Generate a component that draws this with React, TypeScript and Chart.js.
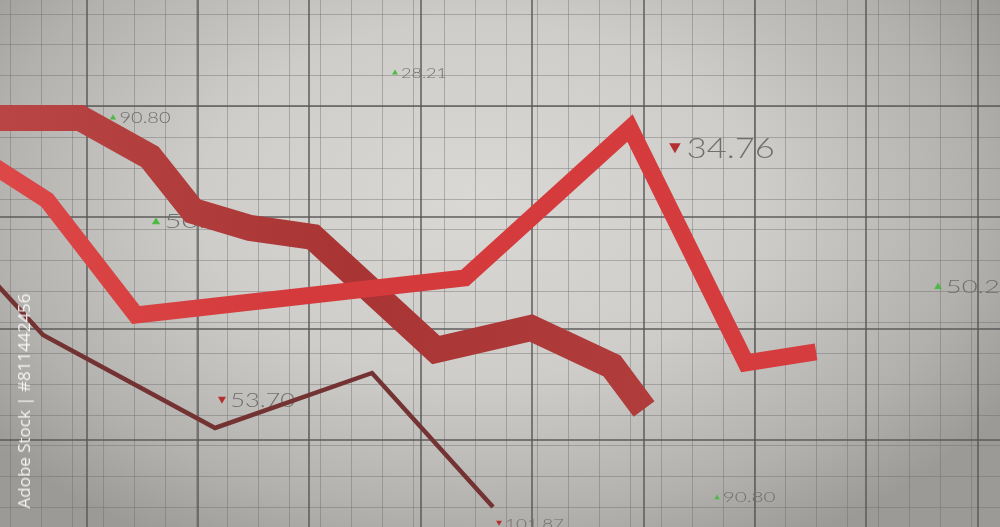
import React, { useEffect, useRef } from "react";
import { Chart, registerables } from "chart.js";

Chart.register(...registerables);

// ---- Series (x in major-grid columns, y in major-grid rows) ----
const wideX = [-0.866, -0.058, 0.57, 0.956, 1.468, 2.033, 3.137, 3.99, 4.717, 5.005];
const wideY = [2.893, 2.893, 2.543, 2.057, 1.905, 1.824, 0.809, 1.006, 0.665, 0.279];

const midX = [-0.866, -0.355, 0.444, 3.397, 4.879, 5.92, 6.549];
const midY = [2.483, 2.156, 1.123, 1.456, 2.803, 0.692, 0.791];

const thinX = [-0.866, -0.39, 1.154, 2.563, 3.649];
const thinY = [1.465, 0.943, 0.108, 0.602, -0.602];

// ---- Ticker labels ----
const tickerText = ["28.21", "90.80", "50.26", "34.76", "50.26", "53.70", "90.80", "101.87"];
const tickerX = [2.769, 0.238, 0.624, 5.282, 7.644, 1.216, 5.66, 3.703];
const tickerY = [3.306, 2.902, 1.968, 2.624, 1.384, 0.359, -0.512, -0.746];
const tickerUp = [true, true, true, false, true, false, true, false];

// label styling (font size px, rendered text width px)
const tickerFont = [14, 15, 20, 27.5, 18, 19, 13, 14];
const tickerWidth = [46, 51, 75, 88, 70, 65, 53, 59];

// ---- Axis ranges / grid ----
const xMin = -0.7765;
const xMax = 8.2;
const yMin = -0.7817;
const yMax = 3.9533;
const majorX = [0, 1, 2, 3, 4, 5, 6, 7, 8];
const majorY = [0, 1, 2, 3];
const minorXStart = -0.6867;
const minorXStep = 0.2783;
const minorYStart = 3.8275;
const minorYStep = 0.2772;

const watermark = "Adobe Stock | #811442456";

function pts(xs: number[], ys: number[]) {
  return xs.map((x, i) => ({ x, y: ys[i] }));
}

export default function App() {
  const ref = useRef<HTMLCanvasElement | null>(null);

  useEffect(() => {
    document.body.style.margin = "0";
    const canvas = ref.current!;

    const minorXs: number[] = [];
    for (let v = minorXStart; v <= xMax; v += minorXStep) minorXs.push(v);
    const minorYs: number[] = [];
    for (let v = minorYStart; v >= yMin; v -= minorYStep) minorYs.push(v);

    const grad = (stops: [number, string][]) => (c: any) => {
      const chart = c.chart;
      const area = chart.chartArea;
      if (!area) return stops[0][1];
      const g = chart.ctx.createLinearGradient(0, 0, chart.width, 0);
      stops.forEach(([p, col]) => g.addColorStop(p, col));
      return g;
    };

    const labelPlugin = {
      id: "tickers",
      beforeDatasetsDraw(chart: any) {
        const ctx = chart.ctx;
        const xs = chart.scales.x;
        const ys = chart.scales.y;
        ctx.save();
        tickerText.forEach((t, i) => {
          const px = xs.getPixelForValue(tickerX[i]);
          const py = ys.getPixelForValue(tickerY[i]);
          const fs = tickerFont[i];
          const s = fs * 0.21;
          ctx.beginPath();
          if (tickerUp[i]) {
            ctx.fillStyle = "#4cbb45";
            ctx.moveTo(px - s, py + s * 0.8);
            ctx.lineTo(px + s, py + s * 0.8);
            ctx.lineTo(px, py - s * 0.9);
          } else {
            ctx.fillStyle = "#b3302f";
            ctx.moveTo(px - s, py - s * 0.8);
            ctx.lineTo(px + s, py - s * 0.8);
            ctx.lineTo(px, py + s * 0.9);
          }
          ctx.closePath();
          ctx.fill();
          ctx.fillStyle = "#6f6f6f";
          ctx.font = `300 ${fs}px Lato, "DejaVu Sans", sans-serif`;
          ctx.textAlign = "left";
          ctx.textBaseline = "middle";
          const w = ctx.measureText(t).width;
          const k = tickerWidth[i] / w;
          ctx.save();
          ctx.translate(px + s + fs * 0.22, py + 1);
          ctx.scale(k, 1);
          ctx.fillText(t, 0, 0);
          ctx.restore();
        });
        ctx.restore();
      },
    };

    const chart = new Chart(canvas, {
      type: "line",
      data: {
        datasets: [
          {
            data: pts(midX, midY),
            borderColor: grad([
              [0, "#dc4747"],
              [0.3, "#d43a3c"],
              [1, "#d63d3f"],
            ]),
            borderWidth: 17,
            order: 1,
          },
          {
            data: pts(wideX, wideY),
            borderColor: grad([
              [0, "#ba4545"],
              [0.35, "#a93434"],
              [0.65, "#b03c3c"],
              [1, "#b03c3c"],
            ]),
            borderWidth: 26,
            order: 2,
          },
          {
            data: pts(thinX, thinY),
            borderColor: "#743333",
            borderWidth: 4.5,
            order: 3,
          },
        ],
      },
      options: {
        animation: false,
        responsive: true,
        maintainAspectRatio: false,
        layout: { padding: 0 },
        elements: {
          line: { tension: 0, borderJoinStyle: "miter", borderCapStyle: "butt" },
          point: { radius: 0, hoverRadius: 0 },
        },
        plugins: { legend: { display: false }, tooltip: { enabled: false } },
        events: [],
        scales: {
          xMinor: {
            type: "linear",
            position: "bottom",
            min: xMin,
            max: xMax,
            z: -1,
            ticks: { display: false },
            border: { display: false },
            grid: { color: "rgba(105,105,105,0.4)", lineWidth: 1, drawTicks: false },
            afterBuildTicks: (s: any) => {
              s.ticks = minorXs.map((v) => ({ value: v }));
            },
          },
          yMinor: {
            type: "linear",
            position: "left",
            min: yMin,
            max: yMax,
            z: -1,
            ticks: { display: false },
            border: { display: false },
            grid: { color: "rgba(105,105,105,0.4)", lineWidth: 1, drawTicks: false },
            afterBuildTicks: (s: any) => {
              s.ticks = minorYs.map((v) => ({ value: v }));
            },
          },
          x: {
            type: "linear",
            position: "bottom",
            min: xMin,
            max: xMax,
            ticks: { display: false },
            border: { display: false },
            grid: { color: "rgba(85,85,85,0.7)", lineWidth: 2, drawTicks: false },
            afterBuildTicks: (s: any) => {
              s.ticks = majorX.map((v) => ({ value: v }));
            },
          },
          y: {
            type: "linear",
            position: "left",
            min: yMin,
            max: yMax,
            ticks: { display: false },
            border: { display: false },
            grid: { color: "rgba(85,85,85,0.7)", lineWidth: 2, drawTicks: false },
            afterBuildTicks: (s: any) => {
              s.ticks = majorY.map((v) => ({ value: v }));
            },
          },
        },
      } as any,
      plugins: [labelPlugin],
    });

    return () => chart.destroy();
  }, []);

  return (
    <div
      style={{
        position: "fixed",
        left: 0,
        top: 0,
        width: 1000,
        height: 527,
        overflow: "hidden",
        background:
          "radial-gradient(ellipse 62% 75% at 48% 38%, #dad8d4 0%, #cfcdc9 45%, #b3b1ae 80%, #9c9a97 100%)",
      }}
    >
      <canvas ref={ref} width={1000} height={527} />
      <div
        style={{
          position: "absolute",
          left: 24,
          top: 401,
          transform: "translate(-50%, -50%) rotate(-90deg)",
          whiteSpace: "nowrap",
          color: "rgba(255,255,255,0.88)",
          fontFamily: '"Open Sans", sans-serif',
          fontSize: 17,
          lineHeight: "20px",
          pointerEvents: "none",
        }}
      >
        {watermark}
      </div>
    </div>
  );
}
